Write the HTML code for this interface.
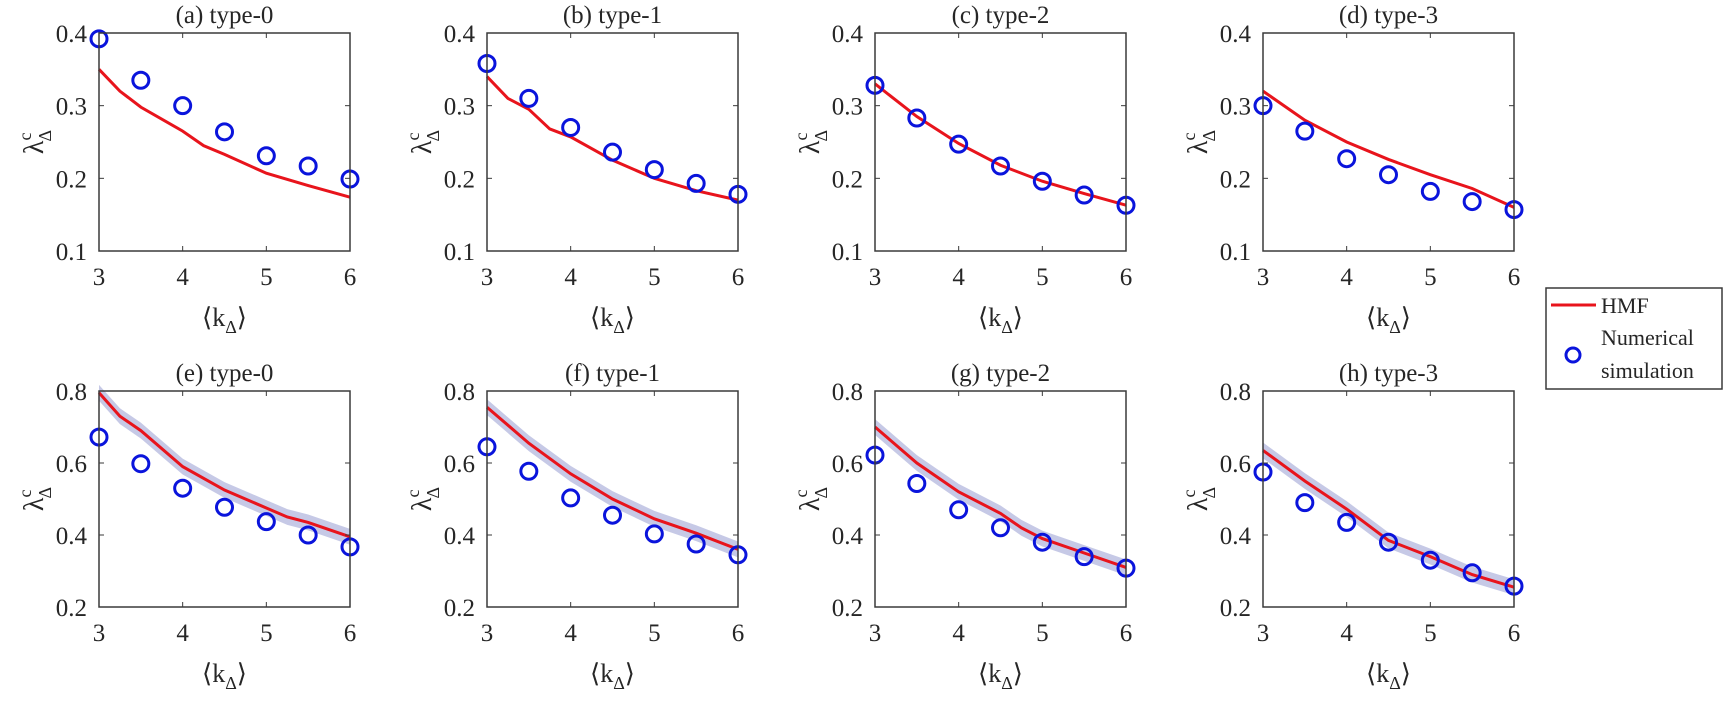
<!DOCTYPE html>
<html><head><meta charset="utf-8"><style>
html,body{margin:0;padding:0;background:#fff}
svg text{font-family:"Liberation Serif",serif;fill:#262626}
</style></head><body>
<svg id="s" width="1724" height="696" xmlns="http://www.w3.org/2000/svg"></svg>
<script>
const S=document.getElementById('s');let h='';
const lefts=[99,487,875,1263],W=251;
const panels=[
 {t:'(a) type-0',c:[.392,.335,.300,.264,.231,.217,.199],l:[[3,.35],[3.25,.32],[3.5,.298],[4,.265],[4.25,.245],[4.5,.233],[5,.207],[5.5,.19],[6,.174]]},
 {t:'(b) type-1',c:[.358,.310,.270,.236,.212,.193,.178],l:[[3,.34],[3.25,.31],[3.5,.295],[3.75,.268],[4,.257],[4.5,.225],[5,.20],[5.5,.183],[6,.17]]},
 {t:'(c) type-2',c:[.328,.283,.247,.217,.196,.177,.163],l:[[3,.33],[3.5,.285],[4,.248],[4.5,.218],[5,.196],[5.5,.179],[6,.163]]},
 {t:'(d) type-3',c:[.300,.265,.227,.205,.182,.168,.157],l:[[3,.32],[3.5,.28],[4,.25],[4.5,.226],[5,.205],[5.5,.186],[6,.16]]},
 {t:'(e) type-0',c:[.672,.598,.530,.477,.437,.400,.367],l:[[3,.795],[3.25,.73],[3.5,.69],[4,.59],[4.5,.525],[5,.475],[5.25,.45],[5.5,.435],[6,.395]]},
 {t:'(f) type-1',c:[.645,.577,.503,.455,.403,.375,.345],l:[[3,.755],[3.5,.655],[4,.57],[4.5,.50],[5,.445],[5.5,.405],[6,.36]]},
 {t:'(g) type-2',c:[.622,.543,.470,.420,.380,.340,.308],l:[[3,.70],[3.5,.60],[4,.52],[4.5,.46],[4.75,.42],[5,.39],[5.5,.35],[6,.31]]},
 {t:'(h) type-3',c:[.575,.490,.435,.380,.330,.295,.258],l:[[3,.635],[3.5,.55],[4,.472],[4.5,.385],[5,.34],[5.5,.29],[6,.255]]}
];
panels.forEach((p,i)=>{
 const bottom=i>=4;const L=lefts[i%4];
 const T=bottom?391:33,B=bottom?607:251;
 const y0=bottom?.2:.1,y1=bottom?.8:.4;
 const X=x=>L+(x-3)/3*W, Y=y=>B-(y-y0)/(y1-y0)*(B-T);
 if(bottom){let up=p.l.map(q=>X(q[0])+','+Y(q[1]+.022)).join(' ');let dn=p.l.slice().reverse().map(q=>X(q[0])+','+Y(q[1]-.022)).join(' ');
  h+=`<polygon points="${up} ${dn}" fill="#b8bce0" opacity="0.8"/>`;}
 h+=`<polyline points="${p.l.map(q=>X(q[0])+','+Y(q[1])).join(' ')}" fill="none" stroke="#e8141c" stroke-width="3"/>`;
 p.c.forEach((v,k)=>{h+=`<circle cx="${X(3+k*.5)}" cy="${Y(v)}" r="8" fill="none" stroke="#0a14dc" stroke-width="3"/>`;});
 h+=`<rect x="${L}" y="${T}" width="${W}" height="${B-T}" fill="none" stroke="#3a3a3a" stroke-width="1.5"/>`;
 for(let x=3;x<=6;x++){h+=`<line x1="${X(x)}" y1="${B}" x2="${X(x)}" y2="${B-5}" stroke="#3a3a3a"/><line x1="${X(x)}" y1="${T}" x2="${X(x)}" y2="${T+5}" stroke="#3a3a3a"/>`;
  h+=`<text x="${X(x)}" y="${B+34}" font-size="25" text-anchor="middle">${x}</text>`;}
 for(let k=0;k<4;k++){const v=y0+k*(y1-y0)/3;const yy=Y(v);
  h+=`<line x1="${L}" y1="${yy}" x2="${L+5}" y2="${yy}" stroke="#3a3a3a"/><line x1="${L+W}" y1="${yy}" x2="${L+W-5}" y2="${yy}" stroke="#3a3a3a"/>`;
  h+=`<text x="${L-12}" y="${yy+9}" font-size="25" text-anchor="end">${v.toFixed(1)}</text>`;}
 h+=`<text x="${L+W/2}" y="${T-10}" font-size="25" text-anchor="middle">${p.t}</text>`;
 h+=`<text x="${L+W/2}" y="${B+75}" font-size="26" text-anchor="middle">⟨k<tspan font-size="18" dy="7">Δ</tspan><tspan dy="-7">⟩</tspan></text>`;
 const cy=(T+B)/2;
 h+=`<text transform="translate(${L-56},${cy}) rotate(-90)" font-size="28" text-anchor="middle">λ<tspan font-size="18" dy="-12">c</tspan><tspan font-size="18" dx="-9" dy="20">Δ</tspan></text>`;
});
h+=`<rect x="1546" y="288" width="176" height="101" fill="#fff" stroke="#3a3a3a" stroke-width="1.5"/>
<line x1="1551" y1="305" x2="1596" y2="305" stroke="#e8141c" stroke-width="3"/>
<text x="1601" y="313" font-size="22">HMF</text>
<circle cx="1573" cy="355" r="7" fill="none" stroke="#0a14dc" stroke-width="3"/>
<text x="1601" y="345" font-size="22">Numerical</text>
<text x="1601" y="378" font-size="22">simulation</text>`;
S.innerHTML=h;
</script>
</body></html>
